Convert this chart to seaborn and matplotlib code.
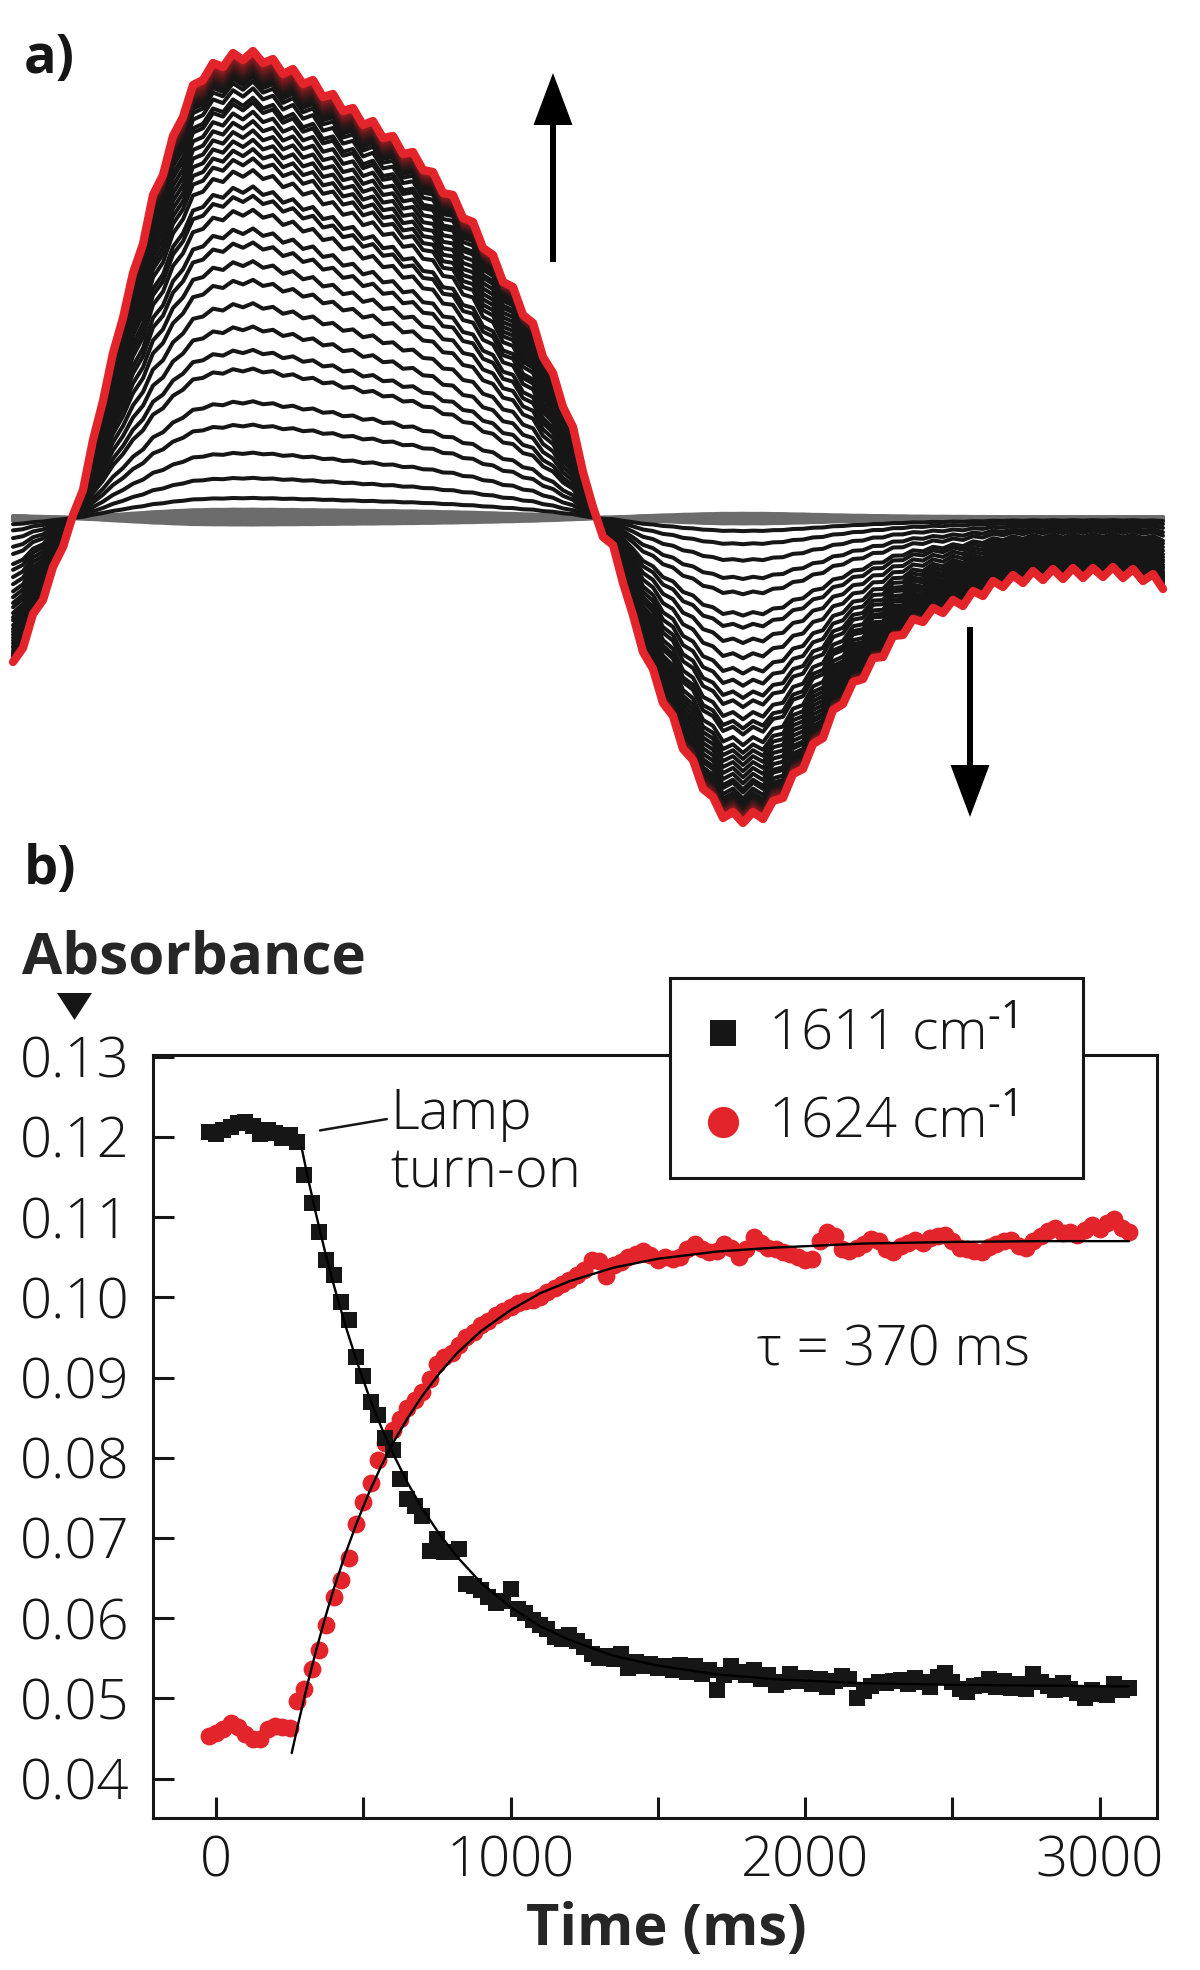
import numpy as np
import pandas as pd
import matplotlib
matplotlib.use("Agg")
import matplotlib.pyplot as plt
import seaborn as sns
from matplotlib.patches import Polygon
from matplotlib.colors import to_rgb

# ------------------------------------------------------------------ data
# panel b: kinetic traces (time in ms, absorbance)
time_ms = [-25, 0, 25, 50, 75, 100, 125, 150, 175, 200,
           225, 250, 275, 300, 325, 350, 375, 400, 425, 450,
           475, 500, 525, 550, 575, 600, 625, 650, 675, 700,
           725, 750, 775, 800, 825, 850, 875, 900, 925, 950,
           975, 1000, 1025, 1050, 1075, 1100, 1125, 1150, 1175, 1200,
           1225, 1250, 1275, 1300, 1325, 1350, 1375, 1400, 1425, 1450,
           1475, 1500, 1525, 1550, 1575, 1600, 1625, 1650, 1675, 1700,
           1725, 1750, 1775, 1800, 1825, 1850, 1875, 1900, 1925, 1950,
           1975, 2000, 2025, 2050, 2075, 2100, 2125, 2150, 2175, 2200,
           2225, 2250, 2275, 2300, 2325, 2350, 2375, 2400, 2425, 2450,
           2475, 2500, 2525, 2550, 2575, 2600, 2625, 2650, 2675, 2700,
           2725, 2750, 2775, 2800, 2825, 2850, 2875, 2900, 2925, 2950,
           2975, 3000, 3025, 3050, 3075, 3100]

abs_1611 = [0.1206, 0.1204, 0.1208, 0.1212, 0.1217, 0.1219, 0.1214, 0.1204, 0.1209, 0.1205,
            0.1199, 0.1202, 0.1193, 0.1152, 0.1118, 0.1082, 0.1046, 0.1028, 0.0994, 0.0972,
            0.0926, 0.0902, 0.0870, 0.0853, 0.0825, 0.0810, 0.0774, 0.0748, 0.0740, 0.0727,
            0.0684, 0.0699, 0.0683, 0.0682, 0.0686, 0.0643, 0.0640, 0.0635, 0.0627, 0.0619,
            0.0622, 0.0637, 0.0612, 0.0606, 0.0598, 0.0592, 0.0587, 0.0576, 0.0574, 0.0579,
            0.0571, 0.0564, 0.0556, 0.0551, 0.0553, 0.0549, 0.0555, 0.0538, 0.0545, 0.0540,
            0.0543, 0.0538, 0.0541, 0.0536, 0.0542, 0.0533, 0.0540, 0.0531, 0.0535, 0.0510,
            0.0529, 0.0540, 0.0533, 0.0529, 0.0536, 0.0524, 0.0529, 0.0517, 0.0521, 0.0530,
            0.0522, 0.0526, 0.0518, 0.0524, 0.0514, 0.0522, 0.0528, 0.0524, 0.0500, 0.0509,
            0.0516, 0.0520, 0.0519, 0.0522, 0.0523, 0.0518, 0.0526, 0.0521, 0.0514, 0.0527,
            0.0532, 0.0520, 0.0512, 0.0508, 0.0515, 0.0517, 0.0524, 0.0514, 0.0522, 0.0513,
            0.0518, 0.0512, 0.0530, 0.0520, 0.0515, 0.0510, 0.0519, 0.0512, 0.0507, 0.0501,
            0.0510, 0.0506, 0.0504, 0.0518, 0.0510, 0.0513]

abs_1624 = [0.0453, 0.0457, 0.0462, 0.0470, 0.0464, 0.0456, 0.0450, 0.0449, 0.0462, 0.0466,
            0.0465, 0.0463, 0.0497, 0.0512, 0.0537, 0.0560, 0.0592, 0.0627, 0.0648, 0.0675,
            0.0717, 0.0745, 0.0768, 0.0797, 0.0818, 0.0834, 0.0848, 0.0862, 0.0872, 0.0882,
            0.0898, 0.0917, 0.0925, 0.0930, 0.0941, 0.0950, 0.0957, 0.0966, 0.0970, 0.0978,
            0.0983, 0.0988, 0.0993, 0.0995, 0.0997, 0.1000, 0.1006, 0.1011, 0.1016, 0.1022,
            0.1028, 0.1034, 0.1046, 0.1045, 0.1026, 0.1040, 0.1044, 0.1050, 0.1054, 0.1058,
            0.1053, 0.1046, 0.1050, 0.1048, 0.1050, 0.1060, 0.1066, 0.1060, 0.1056, 0.1058,
            0.1066, 0.1062, 0.1050, 0.1060, 0.1075, 0.1068, 0.1062, 0.1060, 0.1056, 0.1054,
            0.1050, 0.1046, 0.1048, 0.1070, 0.1082, 0.1076, 0.1060, 0.1058, 0.1062, 0.1066,
            0.1073, 0.1070, 0.1060, 0.1056, 0.1064, 0.1068, 0.1071, 0.1068, 0.1074, 0.1076,
            0.1078, 0.1070, 0.1062, 0.1060, 0.1058, 0.1057, 0.1063, 0.1066, 0.1070, 0.1071,
            0.1064, 0.1061, 0.1070, 0.1077, 0.1083, 0.1086, 0.1080, 0.1082, 0.1078, 0.1084,
            0.1090, 0.1085, 0.1093, 0.1098, 0.1086, 0.1082]

# fitted curves (tau = 370 ms)
fit_t_1611 = [291, 310, 340, 370, 400, 440, 480, 520, 560, 600, 650, 700, 760, 820, 900,
              1000, 1100, 1200, 1350, 1500, 1700, 1900, 2200, 2500, 2800, 3100]
fit_1611 = [0.1186, 0.1152, 0.1103, 0.1057, 0.1015, 0.0964, 0.0918, 0.0876, 0.0839, 0.0806,
            0.0769, 0.0737, 0.0704, 0.0676, 0.0644, 0.0614, 0.0590, 0.0573, 0.0553, 0.0541,
            0.0530, 0.0524, 0.0519, 0.0517, 0.0516, 0.0515]
fit_t_1624 = [257, 280, 310, 340, 370, 400, 440, 480, 520, 560, 600, 650, 700, 760, 820, 900,
              1000, 1100, 1200, 1350, 1500, 1700, 1900, 2200, 2500, 2800, 3100]
fit_1624 = [0.0432, 0.0470, 0.0517, 0.0560, 0.0600, 0.0637, 0.0681, 0.0721, 0.0757, 0.0789,
            0.0818, 0.0849, 0.0877, 0.0906, 0.0931, 0.0958, 0.0984, 0.1005, 0.1020, 0.1037,
            0.1048, 0.1057, 0.1062, 0.1067, 0.1069, 0.1070, 0.1070]

legend_labels = [r"1611 cm$^{\text{-1}}$", r"1624 cm$^{\text{-1}}$"]
x_ticks = [0, 1000, 2000, 3000]
x_minor_ticks = [500, 1500, 2500]
y_ticks = [0.04, 0.05, 0.06, 0.07, 0.08, 0.09, 0.10, 0.11, 0.12, 0.13]
y_tick_labels = ["0.04", "0.05", "0.06", "0.07", "0.08", "0.09", "0.10", "0.11", "0.12", "0.13"]

# panel a: final difference spectrum (arbitrary units) per detector channel
spec_channel = list(range(116))
final_spectrum = [
    -144, -130, -96, -82, -49, -29, 3, 28, 78, 117,
    165, 200, 245, 274, 323, 343, 382, 401, 433, 438,
    455, 451, 465, 458, 467, 455, 459, 444, 449, 434,
    438, 421, 424, 407, 410, 393, 397, 380, 382, 364,
    366, 348, 346, 325, 323, 300, 296, 270, 263, 236,
    231, 203, 195, 161, 145, 111, 91, 46, 11, -19,
    -27, -65, -97, -134, -151, -185, -198, -231, -242, -271,
    -279, -300, -294, -305, -294, -301, -283, -280, -256, -251,
    -226, -220, -192, -186, -164, -161, -140, -139, -118, -117,
    -101, -104, -90, -95, -82, -88, -73, -78, -63, -69,
    -57, -65, -53, -62, -51, -61, -50, -60, -50, -59,
    -49, -60, -51, -63, -56, -71]
# relative size of each recorded spectrum (dark spectra first, then under illumination)
n_dark_spectra = 10
spec_scale = [0.012, -0.008, 0.004, 0.018, -0.014, 0.0, 0.008, -0.004, 0.015, -0.010,
              0.043, 0.086, 0.14, 0.20, 0.25, 0.32, 0.36, 0.41, 0.46, 0.51,
              0.55, 0.59, 0.62, 0.66, 0.69, 0.71, 0.745, 0.77, 0.79, 0.81,
              0.83, 0.85, 0.87, 0.89, 0.90, 0.92, 0.935, 0.945, 0.952, 0.958,
              0.963, 0.968, 0.972, 0.976, 0.979, 0.982, 0.985, 0.988, 0.990, 0.992,
              0.994, 0.996, 0.998]

# ------------------------------------------------------------------ style
RED = "#e3242b"
INK = "#161616"
sns.set_theme(style="ticks")
plt.rcParams["font.family"] = ["Open Sans", "DejaVu Sans"]
plt.rcParams["mathtext.fontset"] = "custom"
plt.rcParams["mathtext.rm"] = "Open Sans"
plt.rcParams["mathtext.it"] = "Open Sans:italic"
plt.rcParams["mathtext.bf"] = "Open Sans:bold"
plt.rcParams["mathtext.default"] = "regular"
plt.rcParams["text.color"] = INK
plt.rcParams["axes.edgecolor"] = INK

FS = 40.5
W, H = 1200, 1970
fig = plt.figure(figsize=(W / 100, H / 100), dpi=100)
fig.patch.set_facecolor("white")

# ------------------------------------------------------------------ panel a
ax_a = fig.add_axes([0, 1 - 860 / H, 1, 860 / H])
ax_a.set_xlim(-1.3, 118.7)
ax_a.set_ylim(-342, 518)
ax_a.axis("off")

rows = []
names = []
for sid, sc in enumerate(spec_scale):
    name = f"s{sid:02d}"
    names.append(name)
    for ch, v in zip(spec_channel, final_spectrum):
        rows.append((name, ch, sc * v))
df_spec = pd.DataFrame(rows, columns=["spectrum", "channel", "dA"])

red_rgb = np.array(to_rgb(RED))
ink_rgb = np.array(to_rgb(INK))
pal = {}
for sid, (name, sc) in enumerate(zip(names, spec_scale)):
    if sid < n_dark_spectra:
        pal[name] = "#6c6c6c"
    elif sc < 0.95:
        pal[name] = INK
    else:
        f = min(1.0, (sc - 0.95) / 0.05) ** 1.5
        pal[name] = tuple(ink_rgb * (1 - f) + red_rgb * f * 0.8)

sns.lineplot(data=df_spec, x="channel", y="dA", hue="spectrum", hue_order=names,
             palette=pal, linewidth=2.9, legend=False, estimator=None, sort=False,
             ax=ax_a)
sns.lineplot(x=spec_channel, y=final_spectrum, color=RED, linewidth=6.0,
             estimator=None, sort=False, ax=ax_a)

ax_a.arrow(54.0, 256, 0, 189, width=0.6, head_width=3.9, head_length=52,
           length_includes_head=True, fc="black", ec="none")
ax_a.arrow(95.7, -109, 0, -190, width=0.6, head_width=3.9, head_length=52,
           length_includes_head=True, fc="black", ec="none")

fig.text(24 / W, 1 - 73 / H, "a)", fontsize=39, fontweight="bold", ha="left", va="baseline")
fig.text(24 / W, 1 - 884 / H, "b)", fontsize=39, fontweight="bold", ha="left", va="baseline")

# ------------------------------------------------------------------ panel b
L, R, T, B = 153, 1157, 1055, 1818
ax_b = fig.add_axes([L / W, 1 - B / H, (R - L) / W, (B - T) / H])
ax_b.set_facecolor("white")

sns.scatterplot(x=time_ms, y=abs_1624, marker="o", s=165, color=RED, linewidth=0,
                ax=ax_b, label=legend_labels[1], zorder=3)
sns.scatterplot(x=time_ms, y=abs_1611, marker="s", s=120, color=INK, linewidth=0,
                ax=ax_b, label=legend_labels[0], zorder=3)
sns.lineplot(x=fit_t_1624, y=fit_1624, color="black", linewidth=1.7, sort=False,
             estimator=None, ax=ax_b, zorder=4)
sns.lineplot(x=fit_t_1611, y=fit_1611, color="black", linewidth=1.7, sort=False,
             estimator=None, ax=ax_b, zorder=4)

ax_b.set_xlim(-214, 3195)
ax_b.set_ylim(0.0351, 0.1302)
ax_b.set_xticks(x_ticks)
ax_b.set_xticks(x_minor_ticks, minor=True)
ax_b.set_xticklabels([str(v) for v in x_ticks])
ax_b.set_yticks(y_ticks)
ax_b.set_yticklabels(y_tick_labels)
ax_b.tick_params(axis="both", which="both", direction="in", length=15, width=2.2,
                 colors=INK, labelsize=FS, top=False, right=False)
ax_b.tick_params(axis="y", pad=17)
ax_b.tick_params(axis="x", pad=12)
for lab in ax_b.get_xticklabels() + ax_b.get_yticklabels():
    lab.set_fontweight("light")
for sp in ax_b.spines.values():
    sp.set_visible(True)
    sp.set_linewidth(2.2)
    sp.set_color(INK)

xl = ax_b.set_xlabel("Time (ms)", fontsize=41.5, fontweight="bold")
xl.set_va("baseline")
ax_b.xaxis.set_label_coords((666 - L) / (R - L), (B - 1945) / (B - T))
yl = ax_b.set_ylabel("Absorbance", fontsize=42, fontweight="bold", rotation=0)
yl.set_ha("left")
yl.set_va("baseline")
ax_b.yaxis.set_label_coords((22 - L) / (R - L), (B - 974) / (B - T))

# small down-pointing triangle under the axis title
tri = Polygon([(57 / W, 1 - 993 / H), (92 / W, 1 - 993 / H), (74.5 / W, 1 - 1020 / H)],
              closed=True, transform=fig.transFigure, facecolor=INK, edgecolor="none")
fig.add_artist(tri)

h, l = ax_b.get_legend_handles_labels()
order = [l.index(legend_labels[0]), l.index(legend_labels[1])]
leg_x0 = (670 - L) / (R - L)
leg_top = (B - 978) / (B - T)
leg_w = 413 / (R - L)
leg = ax_b.legend([h[i] for i in order], [l[i] for i in order],
                  loc="upper left", bbox_to_anchor=(leg_x0, leg_top - 0.3, leg_w, 0.3),
                  mode="expand", borderaxespad=0, frameon=True, fancybox=False,
                  framealpha=1, edgecolor=INK, markerscale=1.75, fontsize=FS,
                  handletextpad=0.35, borderpad=0.5, labelspacing=0.6, handlelength=0.9)
leg.get_frame().set_linewidth(2.2)
leg.set_zorder(10)
for t in leg.get_texts():
    t.set_fontweight("light")

ax_b.annotate("Lamp\nturn-on", xy=(353, 0.1208), xytext=(591, 0.12627),
              fontsize=FS, fontweight="light", ha="left", va="top", linespacing=1.1,
              arrowprops=dict(arrowstyle="-", lw=1.8, color=INK, shrinkA=0, shrinkB=0,
                              relpos=(0, 0.72)))
ax_b.text(1837, 0.09144, "τ = 370 ms", fontsize=FS, fontweight="light",
          ha="left", va="baseline")

fig.savefig("out.png", dpi=100, facecolor="white")
